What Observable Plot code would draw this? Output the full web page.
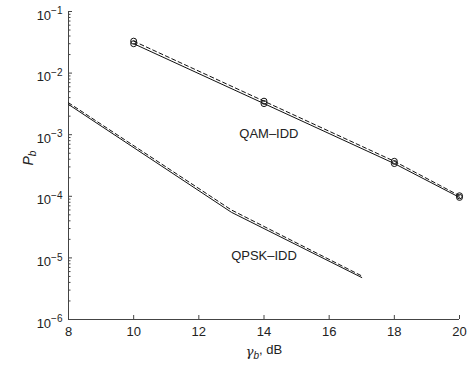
<!DOCTYPE html>
<html>
<head>
<meta charset="utf-8">
<script src="https://cdn.jsdelivr.net/npm/d3@7"></script>
<script src="https://cdn.jsdelivr.net/npm/@observablehq/plot@0.6"></script>
<style>
  html, body { margin: 0; padding: 0; background: #fff; }
</style>
</head>
<body>
<div id="chart"></div>
<script>
// ---- data ----
const snrQam = [10, 14, 18, 20];
const qamSolid = [0.030, 0.0032, 3.4e-4, 9.6e-5];
const qamDashed = [0.033, 0.0035, 3.7e-4, 1.02e-4];

const snrQpsk = [8, 13, 17];
const qpskSolid = [3.1e-3, 5.5e-5, 4.8e-6];
const qpskDashed = [3.3e-3, 6.0e-5, 5.1e-6];

const xTicks = [8, 10, 12, 14, 16, 18, 20];
const yExponents = [-6, -5, -4, -3, -2, -1];

const curveLabels = ["QAM–IDD", "QPSK–IDD"];
const curveLabelX = [14.15, 14.0];
const curveLabelY = [1.05e-3, 1.1e-5];

// ---- derived tables ----
const qamS = snrQam.map((x, i) => ({x, y: qamSolid[i]}));
const qamD = snrQam.map((x, i) => ({x, y: qamDashed[i]}));
const qpS = snrQpsk.map((x, i) => ({x, y: qpskSolid[i]}));
const qpD = snrQpsk.map((x, i) => ({x, y: qpskDashed[i]}));
const yMajor = yExponents.map(e => Math.pow(10, e));
const yMinor = [];
yExponents.slice(0, -1).forEach(e => { for (let k = 2; k <= 9; k++) yMinor.push(k * Math.pow(10, e)); });
const labelRows = curveLabels.map((t, i) => ({t, x: curveLabelX[i], y: curveLabelY[i]}));

const ink = "#222";
const axisInk = "#444";

const chart = Plot.plot({
  width: 468,
  height: 368,
  marginLeft: 68,
  marginRight: 9,
  marginTop: 11,
  marginBottom: 49,
  x: {domain: [8, 20], axis: null},
  y: {type: "log", domain: [1e-6, 1e-1], axis: null},
  style: {fontFamily: "'Liberation Sans', Arial, sans-serif", fontSize: "13px", color: ink, background: "#fff"},
  marks: [
    // inward ticks (no text)
    Plot.axisY({ticks: yMajor, tickSize: 4, dx: 4, fill: "none", stroke: axisInk, label: null}),
    Plot.axisY({ticks: yMinor, tickSize: 2.5, dx: 2.5, fill: "none", stroke: axisInk, label: null}),
    Plot.axisX({ticks: xTicks, tickSize: 4, dy: -4, fill: "none", stroke: axisInk, label: null}),
    // tick labels (no tick marks)
    Plot.axisY({ticks: yMajor, tickSize: 0, tickPadding: 6, dy: 4, label: null,
      tickFormat: d => "10^" + Math.round(Math.log10(d)), fill: ink, fontSize: 13}),
    Plot.axisX({ticks: xTicks, tickSize: 0, tickPadding: 7, label: null, tickFormat: d => String(d), fill: ink, fontSize: 13}),
    // axis lines
    Plot.ruleX([8], {stroke: axisInk, strokeWidth: 1}),
    Plot.ruleY([1e-6], {stroke: axisInk, strokeWidth: 1}),
    // curves
    Plot.line(qpS, {x: "x", y: "y", stroke: "#111", strokeWidth: 1}),
    Plot.line(qpD, {x: "x", y: "y", stroke: "#111", strokeWidth: 1, strokeDasharray: "4,3"}),
    Plot.line(qamS, {x: "x", y: "y", stroke: "#111", strokeWidth: 1}),
    Plot.line(qamD, {x: "x", y: "y", stroke: "#111", strokeWidth: 1, strokeDasharray: "4,3"}),
    Plot.dot(qamS, {x: "x", y: "y", r: 3, stroke: "#111", strokeWidth: 1, fill: "none"}),
    Plot.dot(qamD, {x: "x", y: "y", r: 3, stroke: "#111", strokeWidth: 1, fill: "none"}),
    // curve labels
    Plot.text(labelRows, {x: "x", y: "y", text: "t", fill: ink, fontSize: 13}),
    // axis titles
    Plot.text(["@PB@"], {frameAnchor: "left", dx: -40, rotate: -90, fill: ink, fontSize: 14}),
    Plot.text(["@GB@"], {frameAnchor: "bottom", dy: 36, fill: ink, fontSize: 13})
  ]
});

document.getElementById("chart").appendChild(chart);

// ---- rich text post-processing ----
const svg = d3.select(chart);
svg.selectAll("text").each(function() {
  const t = d3.select(this);
  const s = this.textContent;
  const m = /^10\^(-?\d+)$/.exec(s);
  if (m) {
    t.text("");
    t.append("tspan").text("10");
    t.append("tspan").attr("dy", "-0.55em").attr("font-size", "10px").text(m[1].replace("-", "−"));
  } else if (s === "@PB@") {
    t.text("");
    t.append("tspan").attr("font-style", "italic").text("P");
    t.append("tspan").attr("font-style", "italic").attr("font-size", "10px").attr("dy", "0.35em").text("b");
  } else if (s === "@GB@") {
    t.text("");
    t.append("tspan").attr("font-style", "italic").attr("font-family", "'DejaVu Serif', serif").text("γ");
    t.append("tspan").attr("font-style", "italic").attr("font-size", "10px").attr("dy", "0.35em").text("b");
    t.append("tspan").attr("dy", "-0.35em").text(", dB");
  }
});
</script>
</body>
</html>
